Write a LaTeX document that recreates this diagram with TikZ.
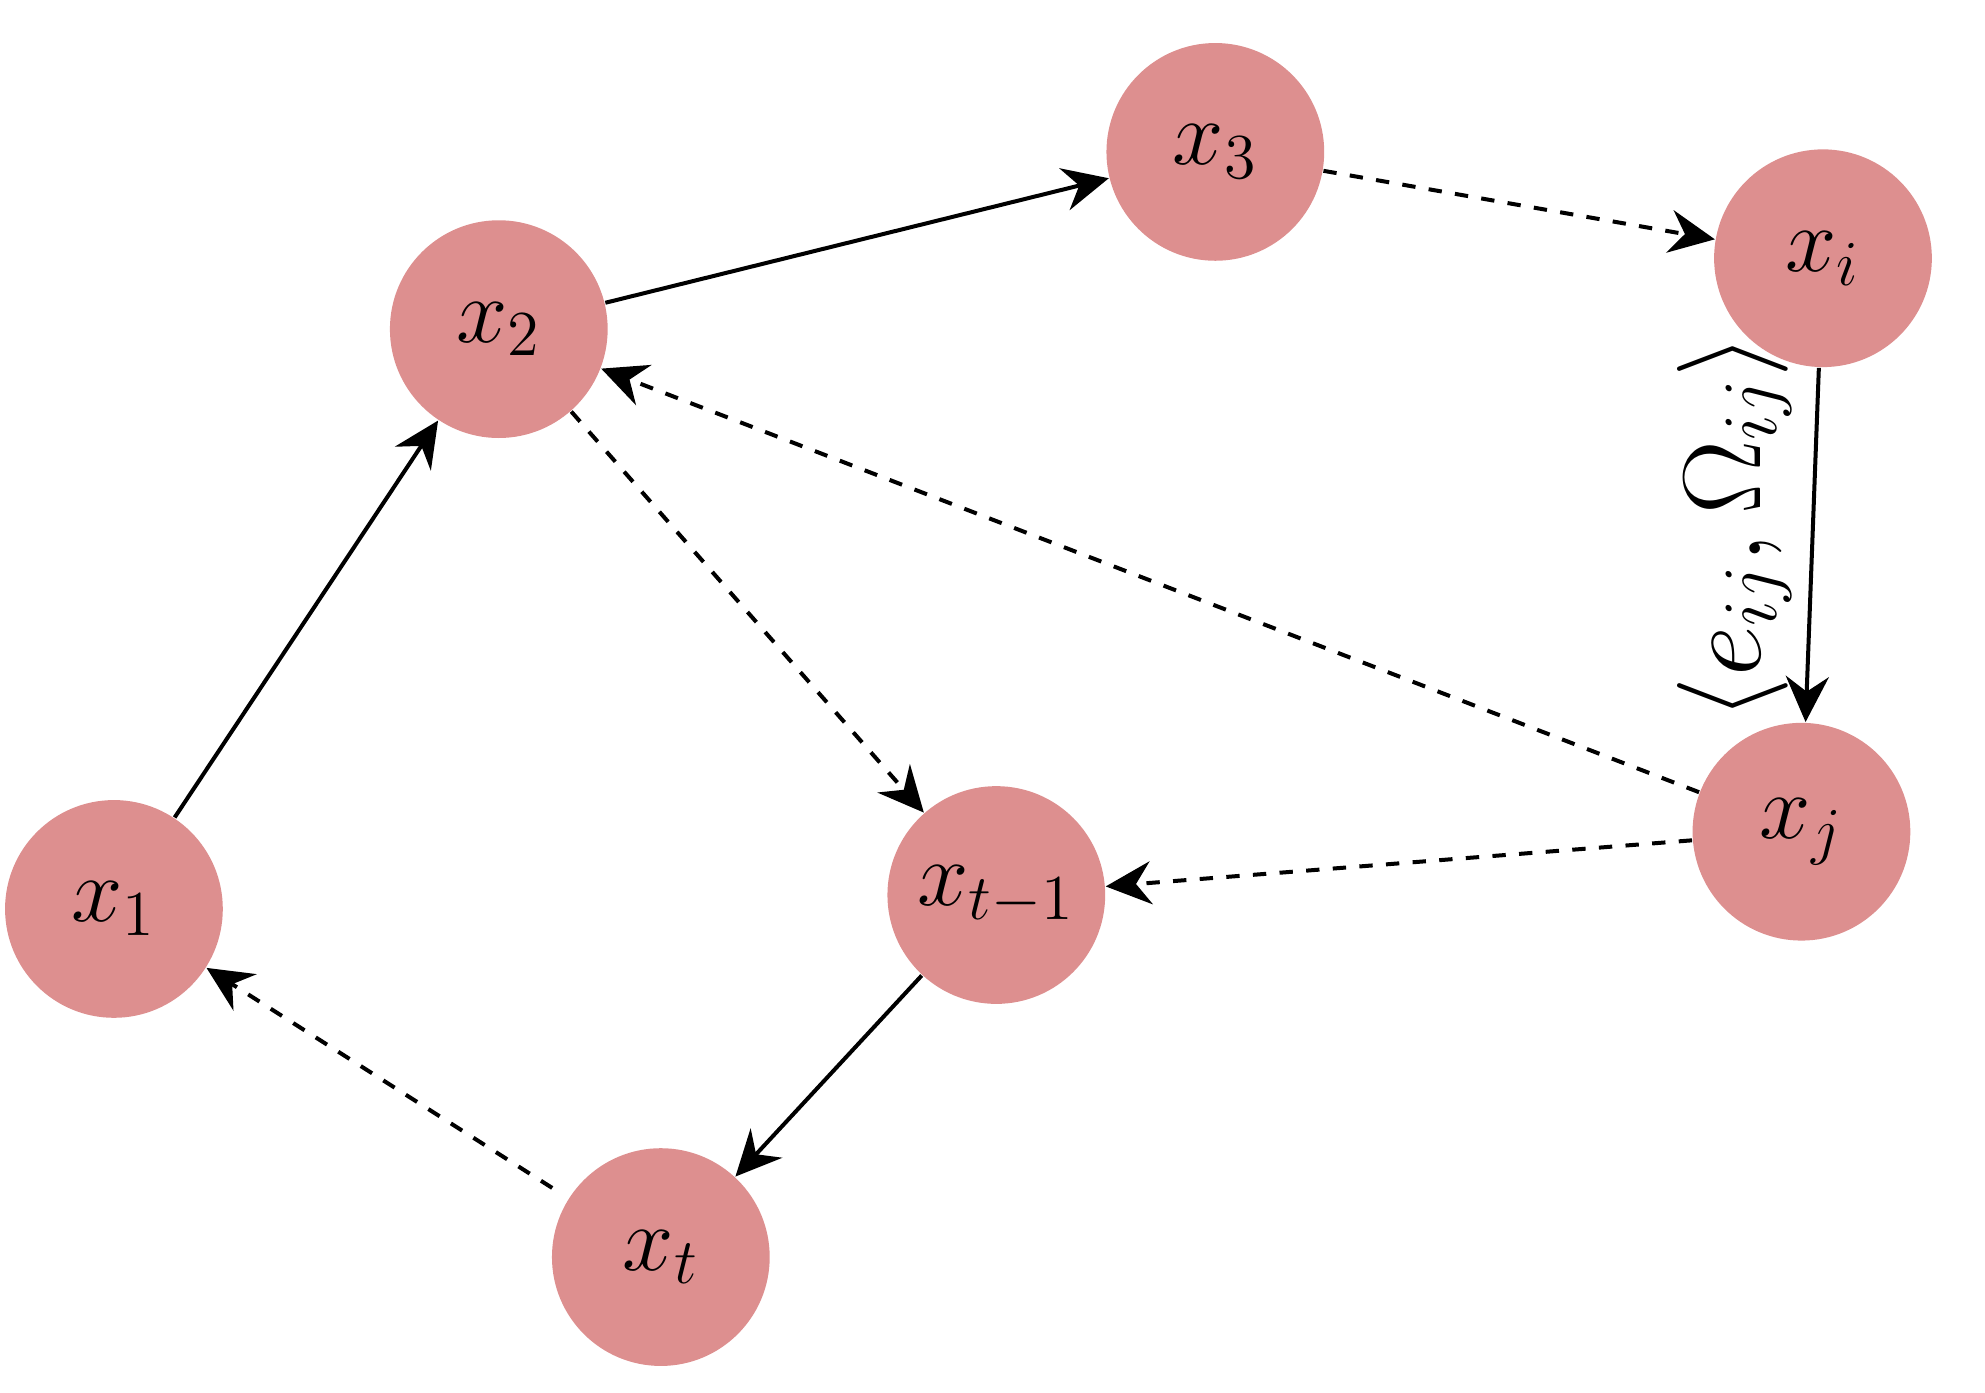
\documentclass[tikz,border=0pt]{standalone}
\usetikzlibrary{arrows.meta}
\begin{document}
\begin{tikzpicture}[x=1cm,y=1cm,
  v/.style={circle,fill=vfill,minimum size=1.72cm,inner sep=0pt,font=\fontsize{20}{24}\selectfont},
  e/.style={line width=0.9pt,-{Stealth[length=3.6mm,width=3.4mm,inset=1.2mm]}},
  d/.style={e,dash pattern=on 3pt off 3pt}]
\definecolor{vfill}{RGB}{221,143,143}
\useasboundingbox (0,0) rectangle (15.68,11.0);
\node[v] (x1) at (0.90,3.82) {$x_1$};
\node[v] (x2) at (3.94,8.40) {$x_2$};
\node[v] (x3) at (9.60,9.80) {$x_3$};
\node[v] (xi) at (14.40,8.96) {$x_i$};
\node[v] (xj) at (14.23,4.43) {$x_j$};
\node[v] (xt1) at (7.87,3.93) {$x_{t-1}$};
\node[v] (xt) at (5.22,1.07) {$x_t$};
\draw[e] (x1) -- (x2);
\draw[e] (x2) -- (x3);
\draw[d] (x3) -- (xi);
\draw[e] (xi) -- node[pos=0.45,left=1pt,rotate=90,anchor=south,font=\fontsize{26}{30}\selectfont] {$\langle e_{ij},\Omega_{ij}\rangle$} (xj);
\draw[d] (xj) -- (x2);
\draw[d] (xj) -- (xt1);
\draw[d] (x2) -- (xt1);
\draw[e] (xt1) -- (xt);
\draw[d,shorten <=1.5mm] (xt) -- (x1);
\end{tikzpicture}
\end{document}
